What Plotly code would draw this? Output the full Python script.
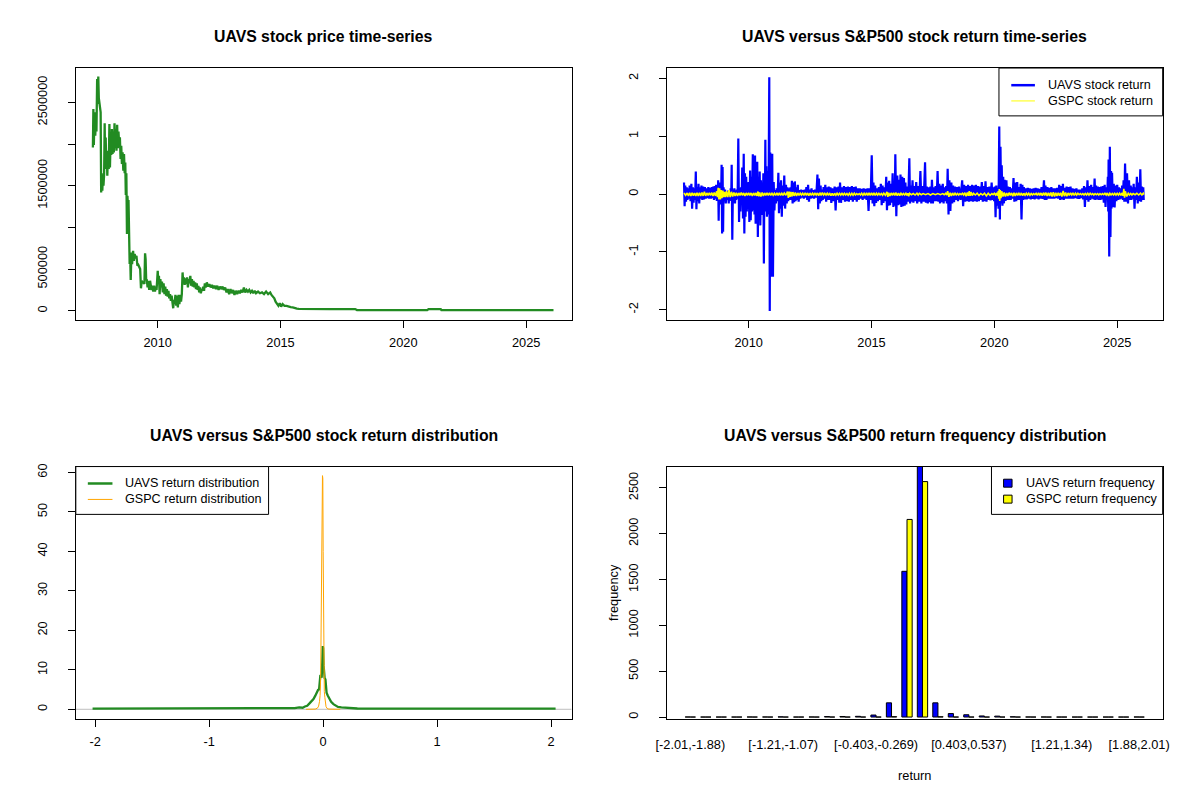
import pandas as pd
import plotly.graph_objects as go

FONT = "Liberation Sans, Arial, sans-serif"

# ---------------- data ----------------
price_series = [
    ("2007-05-14", 1960000), ("2007-05-21", 2420000), ("2007-05-28", 1990000), ("2007-06-08", 2380000),
    ("2007-06-18", 2100000), ("2007-06-28", 2310000), ("2007-07-06", 2150000), ("2007-07-16", 2780000),
    ("2007-07-24", 2480000), ("2007-08-02", 2810000), ("2007-08-10", 2550000), ("2007-08-20", 2470000),
    ("2007-08-28", 2400000), ("2007-09-06", 2380000), ("2007-09-14", 1420000), ("2007-09-22", 1650000),
    ("2007-10-01", 1440000), ("2007-10-10", 1620000), ("2007-10-18", 1500000), ("2007-10-28", 1640000),
    ("2007-11-05", 2250000), ("2007-11-12", 1700000), ("2007-11-20", 2080000), ("2007-11-28", 1750000),
    ("2007-12-06", 1920000), ("2007-12-14", 1620000), ("2007-12-24", 1900000), ("2008-01-04", 1700000),
    ("2008-01-14", 2240000), ("2008-01-22", 1720000), ("2008-02-01", 2080000), ("2008-02-11", 1870000),
    ("2008-02-20", 2180000), ("2008-03-01", 1880000), ("2008-03-10", 2150000), ("2008-03-20", 1900000),
    ("2008-03-30", 2250000), ("2008-04-08", 1950000), ("2008-04-18", 2180000), ("2008-04-28", 1920000),
    ("2008-05-08", 2230000), ("2008-05-18", 1950000), ("2008-05-28", 2150000), ("2008-06-08", 1980000),
    ("2008-06-18", 2080000), ("2008-06-28", 1820000), ("2008-07-08", 1980000), ("2008-07-18", 1760000),
    ("2008-07-28", 1900000), ("2008-08-08", 1680000), ("2008-08-18", 1880000), ("2008-08-28", 1650000),
    ("2008-09-06", 1780000), ("2008-09-14", 1390000), ("2008-09-22", 1650000), ("2008-10-01", 920000),
    ("2008-10-08", 1380000), ("2008-10-16", 1250000), ("2008-10-24", 1330000), ("2008-11-02", 720000),
    ("2008-11-10", 560000), ("2008-11-18", 650000), ("2008-11-26", 370000), ("2008-12-06", 700000),
    ("2008-12-16", 560000), ("2009-01-01", 720000), ("2009-01-12", 600000), ("2009-01-24", 680000),
    ("2009-02-06", 630000), ("2009-02-20", 660000), ("2009-03-06", 540000), ("2009-03-20", 550000),
    ("2009-04-02", 520000), ("2009-04-16", 500000), ("2009-04-28", 270000), ("2009-05-10", 360000),
    ("2009-05-24", 330000), ("2009-06-06", 350000), ("2009-06-18", 320000), ("2009-06-28", 690000),
    ("2009-07-06", 620000), ("2009-07-14", 380000), ("2009-07-24", 370000), ("2009-08-04", 280000),
    ("2009-08-16", 360000), ("2009-08-28", 250000), ("2009-09-10", 360000), ("2009-09-22", 300000),
    ("2009-10-04", 250000), ("2009-10-16", 300000), ("2009-10-28", 230000), ("2009-11-10", 300000),
    ("2009-11-22", 230000), ("2009-12-04", 290000), ("2009-12-16", 250000), ("2010-01-02", 480000),
    ("2010-01-10", 330000), ("2010-01-20", 420000), ("2010-01-30", 200000), ("2010-02-10", 380000),
    ("2010-02-22", 280000), ("2010-03-06", 350000), ("2010-03-18", 220000), ("2010-03-30", 330000),
    ("2010-04-12", 200000), ("2010-04-24", 290000), ("2010-05-06", 180000), ("2010-05-18", 260000),
    ("2010-05-30", 170000), ("2010-06-10", 240000), ("2010-06-22", 150000), ("2010-07-04", 200000),
    ("2010-07-16", 120000), ("2010-07-28", 180000), ("2010-08-10", 60000), ("2010-08-20", 30000),
    ("2010-08-30", 130000), ("2010-09-10", 80000), ("2010-09-22", 190000), ("2010-10-04", 60000),
    ("2010-10-16", 180000), ("2010-10-28", 40000), ("2010-11-08", 190000), ("2010-11-20", 80000),
    ("2010-12-02", 190000), ("2010-12-14", 110000), ("2010-12-26", 200000), ("2011-01-06", 460000),
    ("2011-01-16", 330000), ("2011-01-26", 400000), ("2011-02-06", 310000), ("2011-02-18", 390000),
    ("2011-03-02", 320000), ("2011-03-14", 400000), ("2011-03-26", 280000), ("2011-04-07", 380000),
    ("2011-04-19", 330000), ("2011-05-01", 420000), ("2011-05-13", 300000), ("2011-05-25", 380000),
    ("2011-06-06", 290000), ("2011-06-18", 360000), ("2011-06-30", 280000), ("2011-07-12", 340000),
    ("2011-07-24", 260000), ("2011-08-05", 330000), ("2011-08-17", 250000), ("2011-08-29", 300000),
    ("2011-09-10", 220000), ("2011-09-22", 280000), ("2011-10-04", 210000), ("2011-10-16", 250000),
    ("2011-10-28", 240000), ("2011-11-09", 290000), ("2011-11-21", 240000), ("2011-12-03", 330000),
    ("2011-12-15", 280000), ("2012-01-01", 340000), ("2012-01-20", 290000), ("2012-02-08", 320000),
    ("2012-02-28", 280000), ("2012-03-18", 310000), ("2012-04-06", 270000), ("2012-04-26", 300000),
    ("2012-05-16", 260000), ("2012-06-04", 300000), ("2012-06-24", 250000), ("2012-07-14", 290000),
    ("2012-08-02", 260000), ("2012-08-22", 290000), ("2012-09-10", 250000), ("2012-09-30", 280000),
    ("2012-10-20", 220000), ("2012-11-08", 260000), ("2012-11-28", 200000), ("2012-12-18", 260000),
    ("2013-01-07", 210000), ("2013-01-27", 250000), ("2013-02-16", 190000), ("2013-03-08", 240000),
    ("2013-03-28", 200000), ("2013-04-17", 240000), ("2013-05-07", 210000), ("2013-05-27", 250000),
    ("2013-06-16", 220000), ("2013-07-06", 280000), ("2013-07-26", 220000), ("2013-08-15", 250000),
    ("2013-09-04", 230000), ("2013-09-24", 250000), ("2013-10-14", 220000), ("2013-11-03", 240000),
    ("2013-11-23", 210000), ("2013-12-13", 240000), ("2014-01-02", 210000), ("2014-02-01", 230000),
    ("2014-03-01", 210000), ("2014-04-01", 220000), ("2014-05-01", 200000), ("2014-06-01", 230000),
    ("2014-07-01", 200000), ("2014-08-01", 220000), ("2014-08-20", 190000), ("2014-09-10", 170000),
    ("2014-10-01", 150000), ("2014-10-20", 110000), ("2014-11-10", 90000), ("2014-12-01", 60000),
    ("2014-12-20", 90000), ("2015-01-10", 50000), ("2015-02-01", 80000), ("2015-03-01", 60000),
    ("2015-04-01", 60000), ("2015-05-01", 50000), ("2015-06-01", 45000), ("2015-07-01", 40000),
    ("2015-08-01", 30000), ("2015-09-01", 25000), ("2015-10-01", 22000), ("2016-01-01", 20000),
    ("2016-06-01", 20000), ("2017-01-01", 20000), ("2017-06-01", 20000), ("2018-01-15", 20000),
    ("2018-02-10", 8000), ("2018-06-01", 7000), ("2019-01-01", 7000), ("2019-06-01", 7000),
    ("2020-01-01", 7000), ("2020-06-01", 7000), ("2020-12-20", 7000), ("2021-01-10", 20000),
    ("2021-04-01", 18000), ("2021-07-10", 20000), ("2021-07-20", 8000), ("2022-01-01", 7000),
    ("2023-01-01", 7000), ("2024-01-01", 7000), ("2025-01-01", 7000), ("2026-02-10", 7000),
]

# (decimal year, high return, low return)
uavs_return = [
    (2007.37, .20, -.21), (2007.42, .15, -.13), (2007.48, .12, -.10), (2007.54, .10, -.08), (2007.60, .15, -.12),
    (2007.67, .18, -.25), (2007.73, .12, -.15), (2007.79, .10, -.10), (2007.85, .39, -.26), (2007.90, .12, -.12),
    (2007.96, .18, -.16),
    (2008.02, .12, -.08), (2008.08, .15, -.10), (2008.15, .13, -.09), (2008.22, .12, -.08), (2008.29, .10, -.07),
    (2008.36, .12, -.08), (2008.43, .11, -.08), (2008.50, .12, -.07), (2008.56, .13, -.10), (2008.62, .14, -.08),
    (2008.68, .16, -.12), (2008.73, .12, -.10), (2008.76, .24, -.46), (2008.80, .14, -.10), (2008.85, .20, -.18),
    (2008.90, .51, -.68), (2008.94, .47, -.65), (2008.98, .12, -.12),
    (2009.04, .08, -.16), (2009.10, .04, -.10), (2009.16, .06, -.16), (2009.22, .05, -.10), (2009.27, .10, -.12),
    (2009.31, .51, -.79), (2009.36, .08, -.08), (2009.42, .10, -.16), (2009.47, .06, -.10), (2009.52, .08, -.08),
    (2009.58, .96, -.48), (2009.64, .10, -.30), (2009.69, .12, -.15), (2009.74, .46, -.42), (2009.80, .70, -.68),
    (2009.85, .36, -.39), (2009.90, .30, -.30), (2009.95, .20, -.25),
    (2010.00, .21, -.48), (2010.06, .41, -.45), (2010.11, .30, -.30), (2010.17, .69, -.28), (2010.22, .40, -.35),
    (2010.26, .67, -.51), (2010.31, .35, -.40), (2010.35, .56, -.74), (2010.40, .30, -.35), (2010.45, .39, -.54),
    (2010.50, .24, -.36), (2010.55, .20, -.25), (2010.60, .36, -1.20), (2010.64, .25, -.30), (2010.68, .94, -.30),
    (2010.72, .48, -.39), (2010.77, .40, -.35), (2010.84, 2.02, -2.02), (2010.88, .72, -1.43), (2010.93, .45, -.60),
    (2010.96, .70, -1.43),
    (2011.02, .21, -.28), (2011.08, .07, -.16), (2011.14, .10, -.12), (2011.21, .37, -.33), (2011.26, .20, -.25),
    (2011.32, .24, -.39), (2011.38, .15, -.20), (2011.45, .32, -.25), (2011.52, .16, -.16), (2011.58, .12, -.12),
    (2011.64, .10, -.10), (2011.70, .12, -.10), (2011.76, .23, -.16), (2011.82, .20, -.14), (2011.88, .22, -.12),
    (2011.94, .12, -.10),
    (2012.00, .16, -.13), (2012.07, .07, -.08), (2012.14, .08, -.06), (2012.21, .07, -.08), (2012.28, .08, -.06),
    (2012.35, .12, -.10), (2012.42, .16, -.13), (2012.49, .08, -.08), (2012.56, .10, -.07), (2012.63, .07, -.08),
    (2012.70, .08, -.06), (2012.80, .34, -.26), (2012.86, .27, -.16), (2012.93, .15, -.12), (2012.98, .08, -.10),
    (2013.05, .12, -.08), (2013.12, .16, -.13), (2013.19, .12, -.10), (2013.26, .13, -.10), (2013.33, .12, -.15),
    (2013.40, .10, -.12), (2013.50, .13, -.28), (2013.58, .12, -.10), (2013.66, .13, -.15), (2013.72, .20, -.15),
    (2013.80, .12, -.10), (2013.88, .14, -.13), (2013.96, .12, -.12),
    (2014.04, .13, -.13), (2014.12, .12, -.10), (2014.20, .14, -.13), (2014.28, .12, -.10), (2014.36, .13, -.13),
    (2014.44, .10, -.10), (2014.52, .10, -.08), (2014.60, .09, -.10), (2014.68, .10, -.08), (2014.76, .09, -.10),
    (2014.84, .10, -.29), (2014.92, .10, -.10),
    (2015.01, .67, -.16), (2015.08, .20, -.21), (2015.15, .15, -.15), (2015.22, .10, -.12), (2015.30, .12, -.10),
    (2015.38, .18, -.19), (2015.45, .15, -.15), (2015.52, .12, -.12), (2015.60, .30, -.28), (2015.66, .20, -.20),
    (2015.72, .23, -.19), (2015.79, .18, -.15), (2015.86, .36, -.22), (2015.92, .20, -.20), (2015.97, .69, -.38),
    (2016.05, .32, -.19), (2016.12, .25, -.18), (2016.18, .34, -.22), (2016.25, .30, -.21), (2016.32, .28, -.20),
    (2016.38, .20, -.18), (2016.45, .13, -.13), (2016.54, .62, -.16), (2016.60, .15, -.13), (2016.67, .24, -.15),
    (2016.74, .14, -.12), (2016.82, .21, -.16), (2016.90, .14, -.13), (2016.99, .40, -.16),
    (2017.07, .14, -.13), (2017.18, .55, -.15), (2017.25, .13, -.16), (2017.33, .12, -.14), (2017.40, .13, -.16),
    (2017.46, .25, -.16), (2017.54, .12, -.12), (2017.61, .14, -.12), (2017.69, .40, -.13), (2017.76, .18, -.16),
    (2017.82, .15, -.14), (2017.90, .18, -.16), (2017.97, .12, -.12),
    (2018.04, .14, -.16), (2018.10, .44, -.35), (2018.17, .24, -.29), (2018.25, .20, -.16), (2018.32, .15, -.14),
    (2018.40, .13, -.10), (2018.48, .12, -.12), (2018.56, .13, -.10), (2018.69, .24, -.21), (2018.77, .16, -.13),
    (2018.85, .14, -.12), (2018.93, .16, -.13),
    (2019.01, .14, -.12), (2019.09, .16, -.13), (2019.17, .15, -.12), (2019.25, .16, -.13), (2019.33, .14, -.12),
    (2019.41, .13, -.10), (2019.49, .21, -.13), (2019.57, .14, -.12), (2019.64, .22, -.13), (2019.72, .12, -.10),
    (2019.80, .13, -.11), (2019.89, .20, -.10), (2019.96, .12, -.12),
    (2020.02, .13, -.40), (2020.08, .15, -.20), (2020.14, .10, -.25), (2020.20, 1.17, -.44), (2020.25, .82, -.16),
    (2020.30, .50, -.20), (2020.36, .30, -.16), (2020.42, .25, -.12), (2020.49, .24, -.10), (2020.56, .13, -.10),
    (2020.63, .12, -.10), (2020.70, .10, -.08), (2020.78, .28, -.13), (2020.85, .20, -.12), (2020.93, .21, -.10),
    (2021.00, .12, -.10), (2021.07, .18, -.44), (2021.14, .16, -.10), (2021.20, .12, -.09), (2021.28, .10, -.09),
    (2021.36, .11, -.08), (2021.44, .10, -.09), (2021.52, .09, -.08), (2021.60, .10, -.09), (2021.68, .11, -.08),
    (2021.76, .10, -.09), (2021.84, .09, -.08), (2021.92, .12, -.08),
    (2022.02, .24, -.10), (2022.08, .15, -.10), (2022.16, .12, -.08), (2022.24, .11, -.08), (2022.32, .12, -.08),
    (2022.40, .10, -.08), (2022.48, .10, -.07), (2022.56, .11, -.08), (2022.64, .16, -.10), (2022.72, .14, -.09),
    (2022.79, .18, -.10), (2022.86, .11, -.08), (2022.94, .13, -.08),
    (2023.02, .12, -.08), (2023.10, .13, -.08), (2023.18, .10, -.08), (2023.26, .09, -.07), (2023.34, .10, -.08),
    (2023.42, .08, -.08), (2023.50, .08, -.07), (2023.58, .10, -.09), (2023.65, .14, -.22), (2023.72, .12, -.10),
    (2023.79, .24, -.13), (2023.87, .14, -.10), (2023.94, .16, -.08),
    (2024.01, .12, -.09), (2024.08, .27, -.10), (2024.14, .15, -.09), (2024.21, .13, -.10), (2024.28, .12, -.10),
    (2024.35, .13, -.09), (2024.42, .14, -.15), (2024.49, .16, -.22), (2024.56, .12, -.10), (2024.62, .30, -.30),
    (2024.65, .60, -1.08), (2024.70, .82, -.74), (2024.75, .40, -.25), (2024.79, .37, -.22), (2024.86, .18, -.23),
    (2024.93, .15, -.12),
    (2025.00, .16, -.10), (2025.07, .12, -.09), (2025.13, .10, -.08), (2025.20, .15, -.10), (2025.26, .24, -.13),
    (2025.32, .53, -.13), (2025.40, .36, -.16), (2025.48, .24, -.10), (2025.55, .15, -.10), (2025.61, .12, -.08),
    (2025.67, .18, -.25), (2025.74, .12, -.10), (2025.80, .30, -.16), (2025.87, .20, -.12), (2025.94, .43, -.13),
    (2026.00, .13, -.10), (2026.06, .12, -.10),
]

gspc_return = [
    (2007.37, .02, -.02), (2007.50, .02, -.03), (2007.60, .025, -.03), (2007.70, .025, -.025), (2007.80, .02, -.03),
    (2007.90, .025, -.03), (2008.00, .025, -.03), (2008.10, .03, -.03), (2008.20, .04, -.03), (2008.30, .02, -.02),
    (2008.40, .02, -.02), (2008.50, .025, -.03), (2008.60, .03, -.03), (2008.70, .05, -.05), (2008.76, .11, -.09),
    (2008.82, .10, -.09), (2008.88, .07, -.07), (2008.95, .06, -.05), (2009.02, .04, -.05), (2009.10, .05, -.05),
    (2009.20, .07, -.05), (2009.30, .04, -.04), (2009.40, .03, -.03), (2009.50, .025, -.03), (2009.60, .02, -.02),
    (2009.70, .025, -.02), (2009.80, .02, -.03), (2009.90, .02, -.02), (2010.00, .02, -.02), (2010.10, .02, -.03),
    (2010.20, .02, -.02), (2010.30, .02, -.03), (2010.38, .045, -.04), (2010.45, .03, -.04), (2010.55, .03, -.03),
    (2010.65, .02, -.02), (2010.75, .02, -.02), (2010.85, .02, -.02), (2010.95, .015, -.02), (2011.05, .015, -.02),
    (2011.15, .02, -.02), (2011.25, .02, -.02), (2011.35, .015, -.02), (2011.45, .02, -.02), (2011.58, .045, -.065),
    (2011.65, .045, -.045), (2011.72, .04, -.04), (2011.80, .035, -.03), (2011.90, .03, -.03), (2012.00, .02, -.02),
    (2012.10, .015, -.015), (2012.20, .015, -.02), (2012.30, .02, -.02), (2012.40, .02, -.025), (2012.50, .02, -.02),
    (2012.60, .015, -.015), (2012.70, .015, -.015), (2012.80, .02, -.025), (2012.90, .025, -.02), (2013.00, .025, -.015),
    (2013.10, .015, -.015), (2013.20, .015, -.02), (2013.30, .02, -.025), (2013.40, .015, -.025), (2013.50, .015, -.02),
    (2013.60, .015, -.015), (2013.70, .015, -.015), (2013.80, .015, -.015), (2013.90, .015, -.015), (2014.00, .01, -.02),
    (2014.10, .015, -.02), (2014.20, .015, -.02), (2014.30, .015, -.015), (2014.40, .01, -.01), (2014.50, .01, -.015),
    (2014.60, .015, -.02), (2014.70, .015, -.02), (2014.80, .02, -.02), (2014.90, .02, -.02), (2015.00, .02, -.02),
    (2015.10, .02, -.02), (2015.20, .015, -.015), (2015.30, .015, -.015), (2015.40, .01, -.02), (2015.50, .015, -.02),
    (2015.63, .04, -.045), (2015.70, .025, -.03), (2015.80, .02, -.02), (2015.90, .02, -.02), (2016.00, .025, -.025),
    (2016.10, .02, -.025), (2016.20, .015, -.015), (2016.30, .01, -.015), (2016.40, .015, -.02), (2016.48, .015, -.035),
    (2016.55, .015, -.01), (2016.70, .01, -.015), (2016.85, .015, -.015), (2016.95, .015, -.01), (2017.10, .01, -.01),
    (2017.30, .01, -.015), (2017.50, .01, -.01), (2017.70, .01, -.01), (2017.90, .01, -.01), (2018.02, .015, -.015),
    (2018.10, .05, -.045), (2018.20, .025, -.03), (2018.30, .02, -.02), (2018.40, .015, -.015), (2018.50, .01, -.015),
    (2018.60, .01, -.01), (2018.70, .015, -.015), (2018.80, .025, -.035), (2018.90, .03, -.03), (2018.98, .05, -.03),
    (2019.05, .035, -.025), (2019.15, .015, -.015), (2019.30, .015, -.025), (2019.45, .01, -.015), (2019.60, .015, -.03),
    (2019.75, .015, -.02), (2019.90, .01, -.01), (2020.00, .015, -.015), (2020.10, .02, -.03), (2020.16, .05, -.08),
    (2020.20, .09, -.12), (2020.24, .07, -.07), (2020.30, .05, -.04), (2020.40, .03, -.04), (2020.50, .02, -.03),
    (2020.60, .025, -.02), (2020.70, .02, -.035), (2020.80, .025, -.03), (2020.90, .02, -.02), (2021.00, .015, -.02),
    (2021.10, .02, -.025), (2021.20, .015, -.02), (2021.30, .015, -.015), (2021.40, .015, -.02), (2021.50, .01, -.015),
    (2021.60, .01, -.01), (2021.70, .015, -.02), (2021.80, .02, -.02), (2021.90, .02, -.025), (2022.00, .025, -.02),
    (2022.10, .025, -.03), (2022.20, .025, -.03), (2022.30, .03, -.04), (2022.40, .035, -.04), (2022.50, .025, -.03),
    (2022.60, .025, -.025), (2022.70, .025, -.04), (2022.80, .055, -.035), (2022.90, .03, -.035), (2023.00, .02, -.02),
    (2023.10, .02, -.015), (2023.20, .02, -.02), (2023.30, .015, -.015), (2023.40, .015, -.01), (2023.50, .01, -.01),
    (2023.60, .01, -.015), (2023.70, .01, -.015), (2023.80, .015, -.015), (2023.90, .015, -.01), (2024.00, .01, -.015),
    (2024.10, .01, -.01), (2024.20, .01, -.015), (2024.30, .01, -.01), (2024.40, .01, -.01), (2024.50, .015, -.015),
    (2024.60, .02, -.03), (2024.70, .015, -.015), (2024.80, .01, -.015), (2024.90, .015, -.015), (2025.00, .015, -.015),
    (2025.10, .015, -.02), (2025.20, .02, -.03), (2025.27, .09, -.06), (2025.33, .05, -.04), (2025.45, .015, -.015),
    (2025.55, .01, -.015), (2025.65, .01, -.01), (2025.80, .015, -.015), (2025.95, .015, -.015), (2026.06, .015, -.01),
]

uavs_density = [
    (-2.023, 0.15), (-1.5, 0.15), (-1.0, 0.15), (-0.5, 0.15), (-0.3, 0.2), (-0.25, 0.3), (-0.21, 0.5),
    (-0.18, 0.4), (-0.16, 0.7), (-0.14, 0.9), (-0.12, 1.5), (-0.10, 2.0), (-0.085, 2.6), (-0.07, 3.4),
    (-0.055, 4.3), (-0.045, 4.9), (-0.036, 5.0), (-0.030, 7.5), (-0.025, 8.5), (-0.018, 8.6), (-0.013, 8.0),
    (-0.008, 12.0), (-0.004, 16.0), (0.000, 15.5), (0.004, 11.0), (0.008, 8.3), (0.013, 7.9), (0.020, 7.6),
    (0.025, 5.0), (0.030, 4.2), (0.040, 3.5), (0.055, 2.5), (0.07, 1.9), (0.09, 1.3), (0.11, 0.9), (0.13, 0.6),
    (0.16, 0.5), (0.20, 0.4), (0.25, 0.35), (0.27, 0.4), (0.30, 0.2), (0.5, 0.15), (1.0, 0.15), (1.5, 0.15),
    (2.039, 0.15),
]

gspc_density = [
    (-0.15, 0.0), (-0.07, 0.05), (-0.05, 0.3), (-0.04, 0.8), (-0.032, 2.0), (-0.027, 3.5), (-0.022, 8.0),
    (-0.019, 17.0), (-0.016, 20.0), (-0.012, 35.0), (-0.009, 52.0), (-0.006, 59.2), (-0.003, 58.5),
    (0.000, 40.0), (0.002, 23.0), (0.005, 22.0), (0.007, 18.0), (0.008, 8.0), (0.010, 4.5), (0.015, 3.0),
    (0.020, 1.5), (0.025, 0.7), (0.035, 0.2), (0.05, 0.05), (0.15, 0.0),
]

bin_labels = [
    "[-2.01,-1.88)", "[-1.88,-1.75)", "[-1.75,-1.61)", "[-1.61,-1.48)", "[-1.48,-1.34)", "[-1.34,-1.21)",
    "[-1.21,-1.07)", "[-1.07,-0.94)", "[-0.94,-0.806)", "[-0.806,-0.672)", "[-0.672,-0.537)", "[-0.537,-0.403)",
    "[-0.403,-0.269)", "[-0.269,-0.134)", "[-0.134,0)", "[0,0.134)", "[0.134,0.269)", "[0.269,0.403)",
    "[0.403,0.537)", "[0.537,0.672)", "[0.672,0.806)", "[0.806,0.94)", "[0.94,1.07)", "[1.07,1.21)",
    "[1.21,1.34)", "[1.34,1.48)", "[1.48,1.61)", "[1.61,1.75)", "[1.75,1.88)", "[1.88,2.01)",
]
uavs_freq = [1, 0, 0, 0, 1, 1, 2, 0, 1, 5, 6, 8, 22, 155, 1590, 2740, 155, 38, 25, 12, 10, 3, 1, 1, 0, 0, 0, 0, 0, 1]
gspc_freq = [0, 0, 0, 0, 0, 0, 0, 0, 0, 0, 0, 0, 0, 4, 2156, 2569, 3, 0, 0, 0, 0, 0, 0, 0, 0, 0, 0, 0, 0, 0]
shown_bin_labels = ["[-2.01,-1.88)", "[-1.21,-1.07)", "[-0.403,-0.269)", "[0.403,0.537)", "[1.21,1.34)", "[1.88,2.01)"]

year_ticks = [2010, 2015, 2020, 2025]
price_ticks = [0, 500000, 1000000, 1500000, 2000000, 2500000]
price_tick_text = ["0", "500000", "", "1500000", "", "2500000"]
return_ticks = [-2, -1, 0, 1, 2]
return_tick_text = ["-2", "-1", "0", "1", "2"]
dist_x_ticks = [-2, -1, 0, 1, 2]
dist_x_tick_text = ["-2", "-1", "0", "1", "2"]
dist_y_ticks = [0, 10, 20, 30, 40, 50, 60]
freq_ticks = [0, 500, 1000, 1500, 2000, 2500]

# ---------------- helpers ----------------
W, H = 1200, 800
def PX(x):
    return x / W
def PY(y):
    return 1 - y / H

def decimal_year(d):
    t = pd.Timestamp(d)
    return t.year + (t.dayofyear - 0.5) / 365.25

GREEN = "#228B22"
BLUE = "#0000FF"
YELLOW = "#FFFF00"
ORANGE = "#FFA500"
TICK_SIZE = 12.8
LEG_SIZE = 12.6
TITLE_SIZE = 15.8

fig = go.Figure()

# Top-left: price
fig.add_trace(go.Scatter(
    x=[decimal_year(d) for d, _ in price_series], y=[v for _, v in price_series],
    mode="lines", line=dict(color=GREEN, width=2.3), xaxis="x", yaxis="y", hoverinfo="skip"))

# Top-right: returns (each sample drawn as a high stroke and a low stroke)
ux, uy = [], []
for i, (t, hi, lo) in enumerate(uavs_return):
    t_next = uavs_return[i + 1][0] if i + 1 < len(uavs_return) else t + 0.04
    ux += [t, (t + t_next) / 2]
    uy += [hi, lo]
fig.add_trace(go.Scatter(x=ux, y=uy, mode="lines", line=dict(color=BLUE, width=2.2),
                         xaxis="x2", yaxis="y2", hoverinfo="skip"))
gx, gy = [], []
for i, (t, hi, lo) in enumerate(gspc_return):
    t_next = gspc_return[i + 1][0] if i + 1 < len(gspc_return) else t + 0.06
    gx += [t, (t + t_next) / 2]
    gy += [hi, lo]
fig.add_trace(go.Scatter(x=gx, y=gy, mode="lines", line=dict(color=YELLOW, width=1.6),
                         xaxis="x2", yaxis="y2", hoverinfo="skip"))

# Bottom-left: densities
fig.add_trace(go.Scatter(x=[-2.17, 2.18], y=[0, 0], mode="lines", line=dict(color="#BEBEBE", width=1),
                         xaxis="x3", yaxis="y3", hoverinfo="skip"))
fig.add_trace(go.Scatter(x=[p[0] for p in uavs_density], y=[p[1] for p in uavs_density], mode="lines",
                         line=dict(color=GREEN, width=2.3), xaxis="x3", yaxis="y3", hoverinfo="skip"))
fig.add_trace(go.Scatter(x=[p[0] for p in gspc_density], y=[p[1] for p in gspc_density], mode="lines",
                         line=dict(color=ORANGE, width=1), xaxis="x3", yaxis="y3", hoverinfo="skip"))

# Bottom-right: frequency bars
fig.add_trace(go.Bar(x=bin_labels, y=uavs_freq, marker=dict(color=BLUE, line=dict(color="black", width=1)),
                     xaxis="x4", yaxis="y4", hoverinfo="skip"))
fig.add_trace(go.Bar(x=bin_labels, y=gspc_freq, marker=dict(color=YELLOW, line=dict(color="black", width=1)),
                     xaxis="x4", yaxis="y4", hoverinfo="skip"))

tickfont = dict(family=FONT, size=TICK_SIZE, color="black")
def axis(**kw):
    base = dict(showline=True, mirror=True, linecolor="black", linewidth=1, ticks="outside", ticklen=7,
                tickcolor="black", tickwidth=1, showgrid=False, zeroline=False, tickfont=tickfont,
                fixedrange=True)
    base.update(kw)
    return base

L1, R1 = 65.8, 569.2
L2, R2 = 665.8, 1169.2
T1, B1 = 65.3, 318.3
T2, B2 = 465.3, 718.3

XSTAND = 4
YSTAND = 16

layout = dict(
    width=W, height=H, margin=dict(l=0, r=0, t=0, b=0), paper_bgcolor="white", plot_bgcolor="white",
    showlegend=False, barmode="group", bargap=1 / 3, bargroupgap=0,
    font=dict(family=FONT, color="black"),
    xaxis=axis(domain=[PX(L1), PX(R1)], range=[2006.67, 2026.85], tickvals=year_ticks, anchor="y",
               ticklabelstandoff=XSTAND),
    yaxis=axis(domain=[PY(B1), PY(T1)], range=[-112000, 2912000], tickvals=price_ticks,
               ticktext=price_tick_text, tickangle=-90, anchor="x", ticklabelstandoff=YSTAND),
    xaxis2=axis(domain=[PX(L2), PX(R2)], range=[2006.67, 2026.85], tickvals=year_ticks, anchor="y2",
                ticklabelstandoff=XSTAND),
    yaxis2=axis(domain=[PY(B1), PY(T1)], range=[-2.178, 2.18], tickvals=return_ticks,
                ticktext=return_tick_text, tickangle=-90, anchor="x2", ticklabelstandoff=YSTAND),
    xaxis3=axis(domain=[PX(L1), PX(R1)], range=[-2.17, 2.18], tickvals=dist_x_ticks,
                ticktext=dist_x_tick_text, anchor="y3", ticklabelstandoff=XSTAND),
    yaxis3=axis(domain=[PY(B2), PY(T2)], range=[-2.36, 61.5], tickvals=dist_y_ticks, tickangle=-90,
                anchor="x3", ticklabelstandoff=YSTAND),
    xaxis4=axis(domain=[PX(L2), PX(R2)], type="category", categoryorder="array", categoryarray=bin_labels,
                range=[-1.52, 30.52], tickvals=shown_bin_labels, ticktext=shown_bin_labels, ticks="",
                anchor="y4", ticklabelstandoff=14),
    yaxis4=axis(domain=[PY(B2), PY(T2)], range=[-17, 2733], tickvals=freq_ticks, tickangle=-90,
                anchor="x4", ticklabelstandoff=YSTAND),
)
fig.update_layout(**layout)

annotations = []
shapes = []

def title(text, xc, yc):
    annotations.append(dict(text="<b>%s</b>" % text, x=PX(xc), y=PY(yc), xref="paper", yref="paper",
                            showarrow=False, xanchor="center", yanchor="middle",
                            font=dict(family=FONT, size=TITLE_SIZE, color="black")))

title("UAVS stock price time-series", (L1 + R1) / 2, 34)
title("UAVS versus S&amp;P500 stock return time-series", (L2 + R2) / 2, 34)
title("UAVS versus S&amp;P500 stock return distribution", (L1 + R1) / 2, 434)
title("UAVS versus S&amp;P500 return frequency distribution", (L2 + R2) / 2, 434)

annotations.append(dict(text="return", x=PX((L2 + R2) / 2), y=PY(775.7), xref="paper", yref="paper",
                        showarrow=False, xanchor="center", yanchor="middle",
                        font=dict(family=FONT, size=TICK_SIZE, color="black")))
annotations.append(dict(text="frequency", x=PX(611.5), y=PY((T2 + B2) / 2), xref="paper", yref="paper",
                        showarrow=False, xanchor="center", yanchor="middle", textangle=-90,
                        font=dict(family=FONT, size=TICK_SIZE, color="black")))

def legend_box(x0, x1, y0, y1):
    shapes.append(dict(type="rect", xref="paper", yref="paper", x0=PX(x0), x1=PX(x1), y0=PY(y1), y1=PY(y0),
                       line=dict(color="black", width=1), fillcolor="white", layer="above"))

def legend_text(text, x, y):
    annotations.append(dict(text=text, x=PX(x), y=PY(y), xref="paper", yref="paper", showarrow=False,
                            xanchor="left", yanchor="middle", font=dict(family=FONT, size=LEG_SIZE, color="black")))

def legend_line(x0, x1, y, color, width):
    shapes.append(dict(type="line", xref="paper", yref="paper", x0=PX(x0), x1=PX(x1), y0=PY(y), y1=PY(y),
                       line=dict(color=color, width=width), layer="above"))

def legend_square(xc, yc, color):
    shapes.append(dict(type="rect", xref="paper", yref="paper", x0=PX(xc - 4.3), x1=PX(xc + 4.3),
                       y0=PY(yc + 4), y1=PY(yc - 4), line=dict(color="black", width=1), fillcolor=color,
                       layer="above"))

# top-right legend
legend_box(1003, R2, T1, 113.3)
legend_line(1015.5, 1039.5, 82.5, BLUE, 2.5)
legend_line(1015.5, 1039.5, 98.3, YELLOW, 1)
legend_text("UAVS stock return", 1050.5, 82.5)
legend_text("GSPC stock return", 1050.5, 98.3)

# bottom-left legend
legend_box(L1, 261.5, T2, 513.3)
legend_line(78, 103, 482.3, GREEN, 2.5)
legend_line(78, 103, 498.3, ORANGE, 1)
legend_text("UAVS return distribution", 113.5, 482.3)
legend_text("GSPC return distribution", 113.5, 498.3)

# bottom-right legend
legend_box(995.4, R2, T2, 513.3)
legend_square(1012, 482, BLUE)
legend_square(1012, 498, YELLOW)
legend_text("UAVS return frequency", 1028, 482.3)
legend_text("GSPC return frequency", 1028, 498.3)

fig.update_layout(annotations=annotations, shapes=shapes)
fig.write_html("out.html")
